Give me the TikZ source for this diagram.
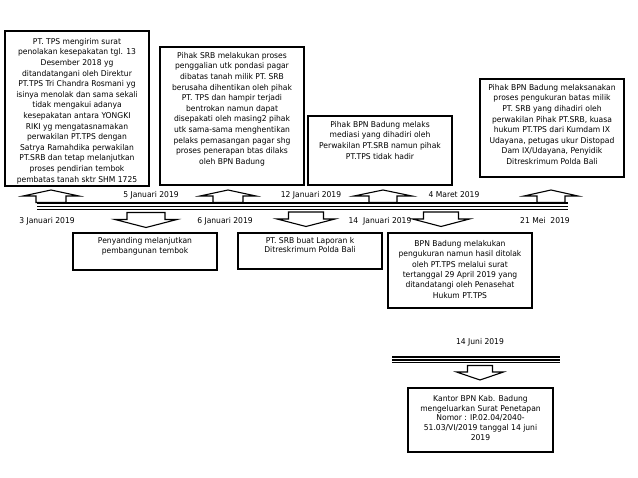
\documentclass[tikz,border=0pt]{standalone}
\usepackage{fontspec}
\setmainfont{DejaVu Sans}[FakeStretch=0.95]
\usetikzlibrary{positioning}
\newcommand\fs[1]{\fontsize{8}{#1}\selectfont}
\tikzset{box/.style={draw,line width=1.2pt,minimum width=144,inner sep=0pt},
         txt/.style={font=\fs{10.6},align=center,inner sep=0pt},
         date/.style={font=\fs{10},inner sep=0pt},
         blockar/.style={draw,fill=white,line width=1.1pt,line join=miter}}
% block arrows: centre x, tip/top y, shaft half width, head half width, shaft and head length
\newcommand\uparr[6]{\draw[blockar] (#1,#2) -- ++(#4,#6) -- ++(-#4+#3,0) -- ++(0,#5)
   -- ++(-2*#3,0) -- ++(0,-#5) -- ++(-#4+#3,0) -- cycle;}
\newcommand\dnarr[6]{\draw[blockar] (#1-#3,#2) -- ++(2*#3,0) -- ++(0,#5) -- ++(#4-#3,0)
   -- ++(-#4,#6) -- ++(-#4,-#6) -- ++(#4-#3,0) -- cycle;}
\begin{document}
\begin{tikzpicture}[x=1pt,y=-1pt]
\useasboundingbox (0,0) rectangle (638,478);
% upper time line
\draw[line width=1.6pt] (37,203.3) -- (568,203.3);
\draw[line width=1.1pt] (37,206.3) -- (568,206.3);
\draw[line width=1.2pt] (37,209.2) -- (568,209.2);
\uparr{51}{190}{15}{28}{6.5}{6}
\uparr{228}{190}{15}{28}{6.5}{6}
\uparr{383}{190}{14}{29}{6.5}{6}
\uparr{551}{190}{14}{27}{6.5}{6}
\dnarr{146}{212.5}{19}{31}{7}{8}
\dnarr{306}{212}{17.5}{29}{7}{7.5}
\dnarr{441}{212}{17.5}{28.5}{7}{7.5}
\node[date] (d1) at (47,221) {3 Januari 2019};
\node[date] (d2) at (151,195) {5 Januari 2019};
\node[date] (d3) at (225,221) {6 Januari 2019};
\node[date] (d4) at (311,195) {12 Januari 2019};
\node[date] (d5) at (380,221) {14\ \ Januari 2019};
\node[date] (d6) at (454,195) {4 Maret 2019};
\node[date] (d7) at (545,221) {21 Mei\ \ 2019};
% lower time line
\draw[line width=1.6pt] (392,357.3) -- (560,357.3);
\draw[line width=1.1pt] (392,360) -- (560,360);
\draw[line width=1.2pt] (392,362.8) -- (560,362.8);
\dnarr{480}{365.5}{12.5}{23.5}{6.5}{8}
\node[date] (d8) at (480,342) {14 Juni 2019};
% event boxes
\node[box,minimum height=155] (b1) at (77,108.5) {};
\node[txt,below=7.7pt of b1.north] (t1) {PT. TPS mengirim surat\\
  penolakan kesepakatan tgl. 13\\ Desember 2018 yg\\
  ditandatangani oleh Direktur\\ PT.TPS Tri Chandra Rosmani yg\\
  isinya menolak dan sama sekali\\ tidak mengakui adanya\\
  kesepakatan antara YONGKI\\ RIKI yg mengatasnamakan\\
  perwakilan PT.TPS dengan\\ Satrya Ramahdika perwakilan\\
  PT.SRB dan tetap melanjutkan\\ proses pendirian tembok\\
  pembatas tanah sktr SHM 1725};
\node[box,minimum height=138] (b2) at (232,116) {};
\node[txt,below=5.7pt of b2.north] (t2) {Pihak SRB melakukan proses\\
  penggalian utk pondasi pagar\\ dibatas tanah milik PT. SRB\\
  berusaha dihentikan oleh pihak\\ PT. TPS dan hampir terjadi\\
  bentrokan namun dapat\\ disepakati oleh masing2 pihak\\
  utk sama-sama menghentikan\\ pelaks pemasangan pagar shg\\
  proses penerapan btas dilaks\\ oleh BPN Badung};
\node[box,minimum height=69] (b3) at (380,150.5) {};
\node[txt,below=5.7pt of b3.north] (t3) {Pihak BPN Badung melaks\\
  mediasi yang dihadiri oleh\\ Perwakilan PT.SRB namun pihak\\
  PT.TPS tidak hadir};
\node[box,minimum height=98] (b4) at (552,128) {};
\node[txt,below=5.7pt of b4.north] (t4) {Pihak BPN Badung melaksanakan\\
  proses pengukuran batas milik\\ PT. SRB yang dihadiri oleh\\
  perwakilan Pihak PT.SRB, kuasa\\ hukum PT.TPS dari Kumdam IX\\
  Udayana, petugas ukur Distopad\\ Dam IX/Udayana, Penyidik\\
  Ditreskrimum Polda Bali};
\node[box,minimum height=37] (b5) at (145,251.5) {};
\node[txt,font=\fs{10},below=4.7pt of b5.north] (t5) {Penyanding melanjutkan\\
  pembangunan tembok};
\node[box,minimum height=36] (b6) at (310,251) {};
\node[txt,font=\fs{9.6},below=4.7pt of b6.north] (t6) {PT. SRB buat Laporan k\\
  Ditreskrimum Polda Bali};
\node[box,minimum height=75] (b7) at (460,270.5) {};
\node[txt,font=\fs{10.4},below=7.7pt of b7.north] (t7) {BPN Badung melakukan\\
  pengukuran namun hasil ditolak\\ oleh PT.TPS melalui surat\\
  tertanggal 29 April 2019 yang\\ ditandatangi oleh Penasehat\\
  Hukum PT.TPS};
\node[box,minimum width=145,minimum height=64] (b8) at (480.5,420) {};
\node[txt,font=\fs{9.8},below=7.7pt of b8.north] (t8) {Kantor BPN Kab. Badung\\
  mengeluarkan Surat Penetapan\\ Nomor : IP.02.04/2040-\\
  51.03/VI/2019 tanggal 14 juni\\ 2019};
\end{tikzpicture}
\end{document}
